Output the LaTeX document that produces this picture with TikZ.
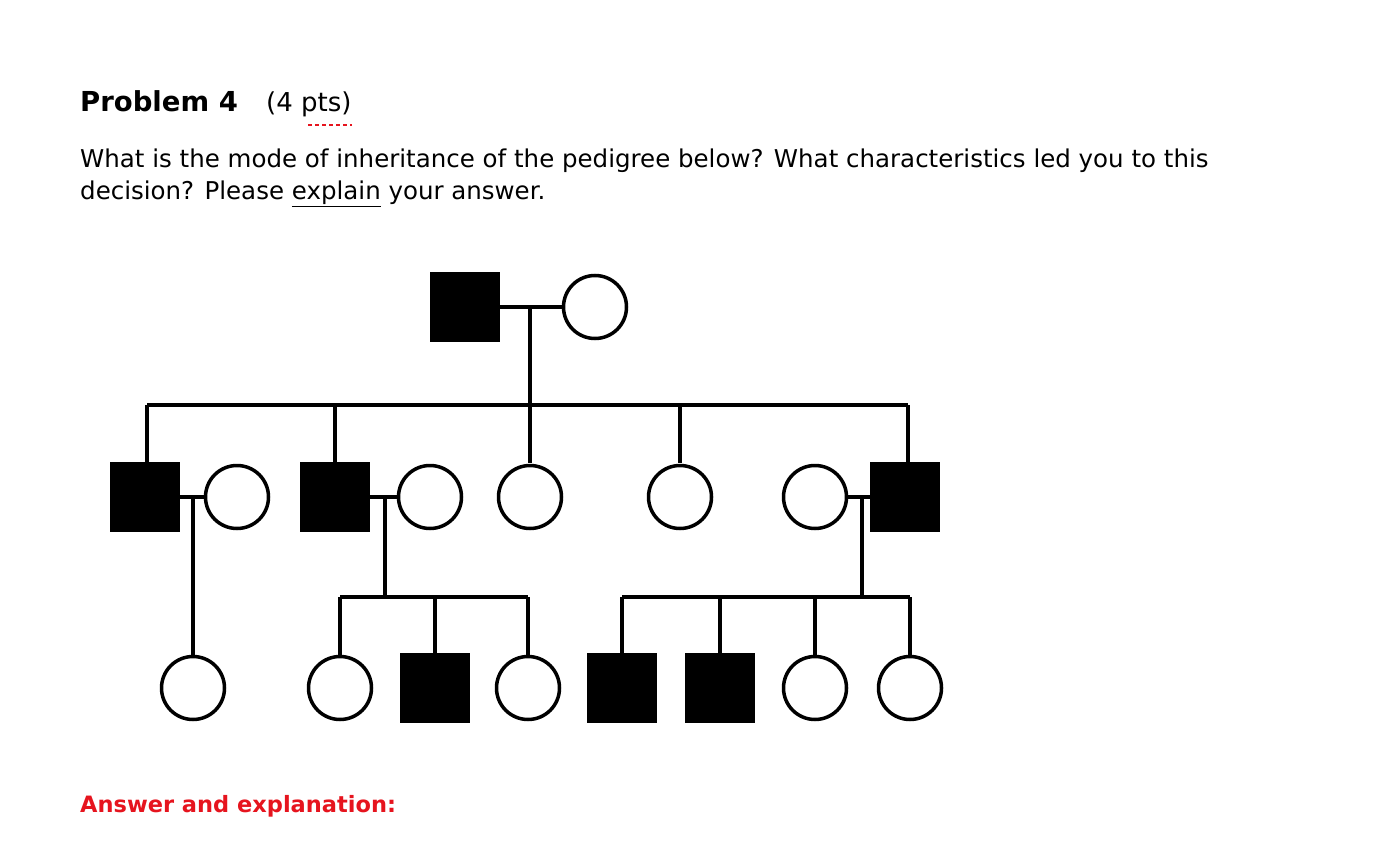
\documentclass[tikz,border=0pt]{standalone}
\usepackage{fontspec}
\setmainfont{DejaVu Sans}
\definecolor{ansred}{RGB}{230,20,30}
\begin{document}
\begin{tikzpicture}[x=1pt,y=-1pt,
  male/.style={draw,fill=black,minimum size=68pt,inner sep=0pt,line width=1.5pt},
  fem/.style={draw,circle,minimum size=63pt,inner sep=0pt,line width=3.5pt,fill=white},
  ln/.style={line width=3.2pt},
  txt/.style={anchor=base west,inner sep=0pt,font=\fontsize{24.5}{30}\selectfont}]
\useasboundingbox (0,0) rectangle (1380,858);
\node[txt,font=\fontsize{27.5}{32}\selectfont\bfseries] (t1) at (80,112) {Problem 4};
\node[txt,font=\fontsize{26}{32}\selectfont] (t2) at (266,112) {(4 pts)};
\draw[ansred,line width=2.5pt,dash pattern=on 4pt off 3pt] (308,125) -- (352,125);
\node[txt] (q1) at (80,168) {What is the mode of inheritance of the pedigree below? What characteristics led you to this};
\node[txt] (q2) at (80,200) {decision? Please \underline{explain} your answer.};
\node[txt,font=\fontsize{22.5}{28}\selectfont\bfseries,text=ansred] (a) at (80,812) {Answer and explanation:};
% gen I
\node[male] (i1) at (465,307) {};
\node[fem] (i2) at (595,307) {};
\draw[ln] (i1.east) -- (i2.west);
\coordinate (s1) at (530,405);
\draw[ln] (530,307) -- (s1);
\draw[ln] (147,405) -- (908,405);
% gen II
\node[male] (a1) at (145,497) {};
\node[fem] (a2) at (237,497) {};
\node[male] (a3) at (335,497) {};
\node[fem] (a4) at (430,497) {};
\node[fem] (a5) at (530,497) {};
\node[fem] (a6) at (680,497) {};
\node[fem] (a7) at (815,497) {};
\node[male] (a8) at (905,497) {};
\foreach \n/\x in {a1/147,a3/335,a5/530,a6/680,a8/908}{\draw[ln] (\x,405) -- (\x,463);}
\draw[ln] (a1.east) -- (a2.west);
\draw[ln] (a3.east) -- (a4.west);
\draw[ln] (a7.east) -- (a8.west);
% gen III
\node[fem] (b1) at (193,688) {};
\node[fem] (b2) at (340,688) {};
\node[male] (b3) at (435,688) {};
\node[fem] (b4) at (528,688) {};
\node[male] (b5) at (622,688) {};
\node[male] (b6) at (720,688) {};
\node[fem] (b7) at (815,688) {};
\node[fem] (b8) at (910,688) {};
\draw[ln] (193,497) -- (b1.north);
\draw[ln] (385,497) -- (385,597);
\draw[ln] (340,597) -- (528,597);
\foreach \x in {340,435,528}{\draw[ln] (\x,597) -- (\x,655);}
\draw[ln] (862,497) -- (862,597);
\draw[ln] (622,597) -- (910,597);
\foreach \x in {622,720,815,910}{\draw[ln] (\x,597) -- (\x,655);}
\end{tikzpicture}
\end{document}
